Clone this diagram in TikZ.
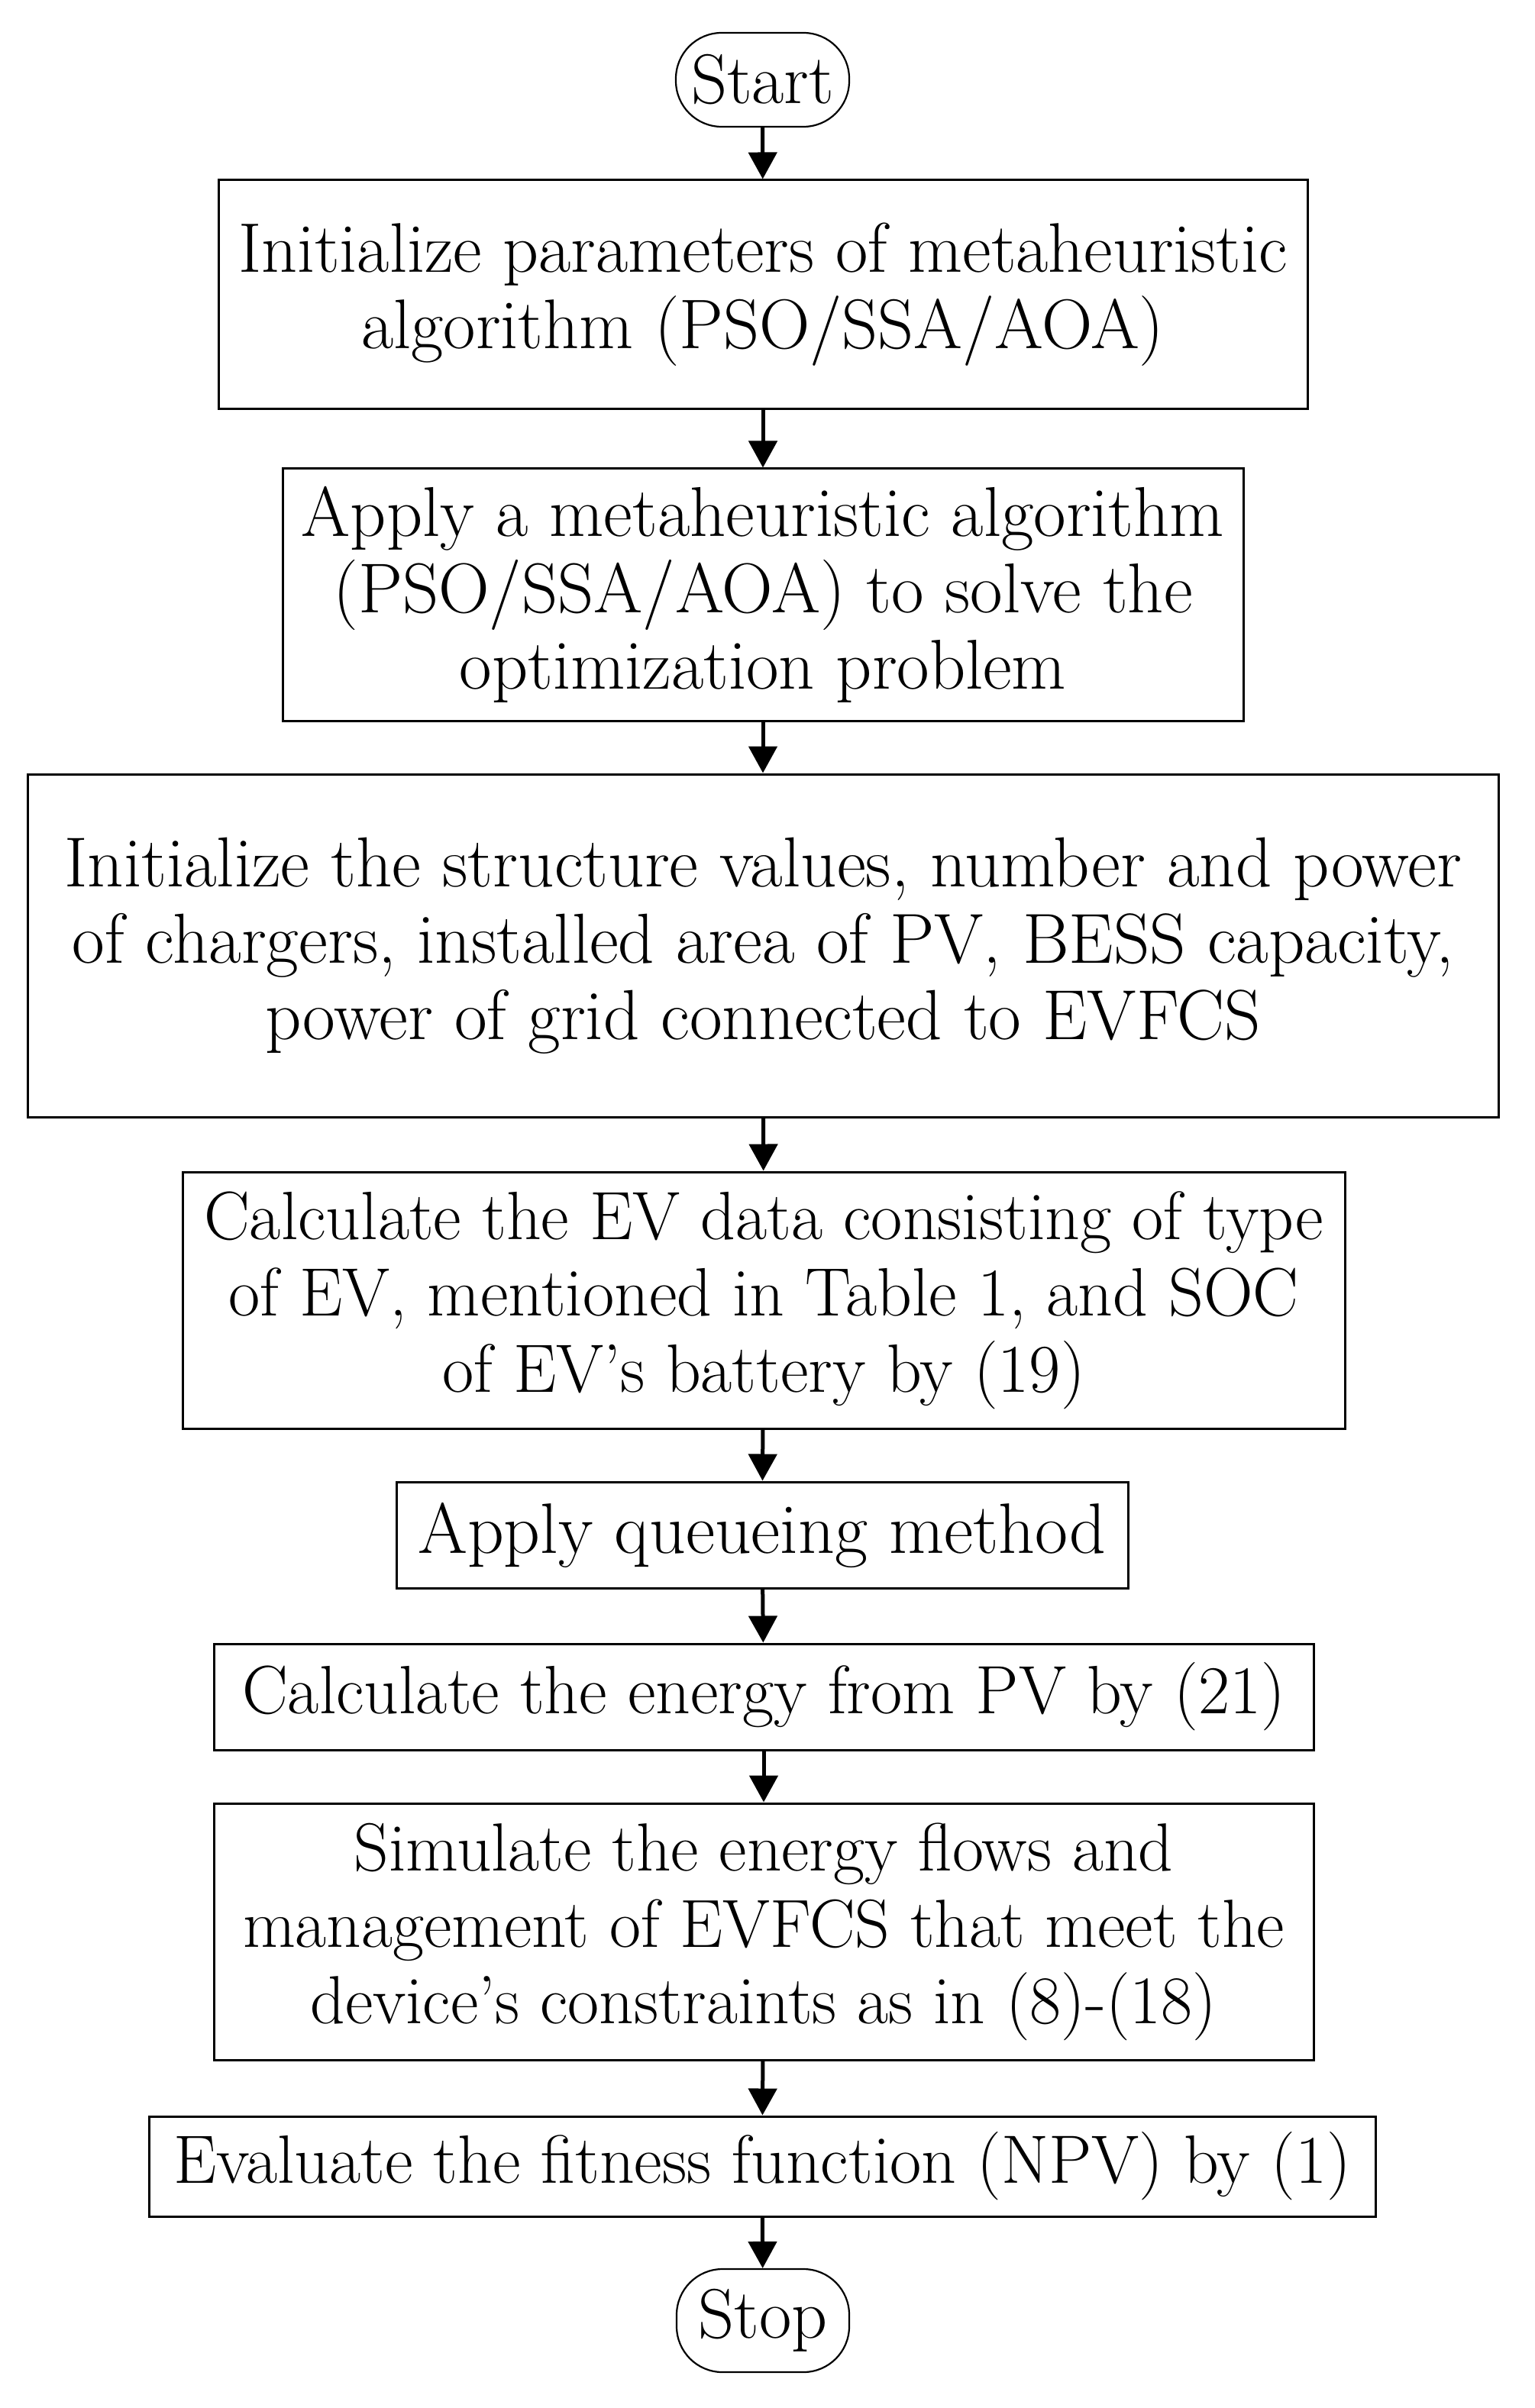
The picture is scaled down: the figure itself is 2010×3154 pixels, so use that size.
\documentclass[tikz,border=0pt]{standalone}
\usetikzlibrary{arrows.meta}
\begin{document}
\begin{tikzpicture}[x=0.25pt,y=-0.25pt,
  txt/.style={font=\fontsize{23}{25}\selectfont, align=center, inner sep=0pt},
  fs/.style={font=\fontsize{#1}{25}\selectfont},
  procbox/.style={txt, draw, line width=0.75pt, rectangle},
  term/.style={txt, draw, line width=0.55pt, rounded corners=15pt},
  flow/.style={line width=1.25pt, -{Triangle[width=9.25pt,length=8.75pt]}}
]
\useasboundingbox (0,0) rectangle (2010,3154);
\node[term, minimum width=227*0.25pt, minimum height=123*0.25pt] (start) at (998.5,104.5) {Start};
\node[procbox, fs=23.0, minimum width=1426*0.25pt, minimum height=300*0.25pt] (b1) at (999,386)
  {Initialize parameters of metaheuristic\\algorithm (PSO/SSA/AOA)};
\node[procbox, fs=23.1, minimum width=1258*0.25pt, minimum height=330*0.25pt] (b2) at (999,779)
  {Apply a metaheuristic algorithm\\(PSO/SSA/AOA) to solve the\\optimization problem};
\node[procbox, fs=23.2, minimum width=1926*0.25pt, minimum height=449*0.25pt] (b3) at (999,1238.5)
  {Initialize the structure values, number and power\\of chargers, installed area of PV, BESS capacity,\\power of grid connected to EVFCS};
\node[procbox, fs=22.4, minimum width=1522*0.25pt, minimum height=336*0.25pt] (b4) at (1000,1703)
  {Calculate the EV data consisting of type\\of EV, mentioned in Table 1, and SOC\\of EV's battery by (19)};
\node[procbox, fs=23.4, minimum width=958*0.25pt, minimum height=139*0.25pt] (b5) at (998,2010.5)
  {Apply queueing method};
\node[procbox, fs=22.4, minimum width=1440*0.25pt, minimum height=139*0.25pt] (b6) at (1000,2222.5)
  {Calculate the energy from PV by (21)};
\node[procbox, fs=22.3, minimum width=1440*0.25pt, minimum height=336*0.25pt] (b7) at (1000,2530)
  {Simulate the energy flows and\\management of EVFCS that meet the\\device's constraints as in (8)-(18)};
\node[procbox, fs=22.4, minimum width=1606*0.25pt, minimum height=131*0.25pt] (b8) at (998,2837.5)
  {Evaluate the fitness function (NPV) by (1)};
\node[term, minimum width=226*0.25pt, minimum height=135*0.25pt] (stop) at (999,3039.5) {Stop};
\draw[flow] (start) -- (b1);
\draw[flow] (b1) -- (b2);
\draw[flow] (b2) -- (b3);
\draw[flow] (b3) -- (b4);
\draw[flow] (b4) -- (b5);
\draw[flow] (b5) -- (b6);
\draw[flow] (b6) -- (b7);
\draw[flow] (b7) -- (b8);
\draw[flow] (b8) -- (stop);
\end{tikzpicture}
\end{document}
